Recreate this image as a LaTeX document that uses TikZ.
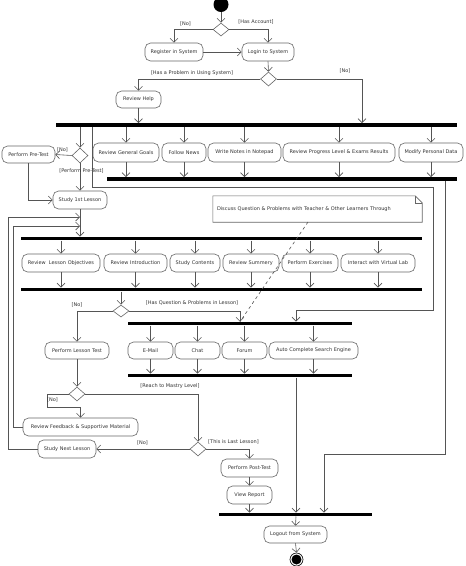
\documentclass[tikz,border=0pt]{standalone}
\usepackage{fontspec}
\setmainfont{DejaVu Sans}
\usetikzlibrary{arrows.meta,shapes.geometric,calc}
\definecolor{ln}{HTML}{555555}
\definecolor{bd}{HTML}{666666}
\definecolor{tx}{HTML}{333333}
\begin{document}
\begin{tikzpicture}[x=1pt,y=-1pt,
  act/.style={draw=bd, line width=0.6pt, rounded corners=5.5pt, minimum height=18pt, inner sep=0pt, font=\fontsize{5}{6}\selectfont, text=tx},
  bar/.style={fill=black, draw=none, minimum height=3.6pt, inner sep=0pt},
  dec/.style={diamond, draw=bd, line width=0.6pt, inner sep=0pt, minimum width=16pt, minimum height=14pt},
  flow/.style={draw=ln, line width=0.6pt, -{Straight Barb[length=4pt,width=8pt]}},
  wire/.style={draw=ln, line width=0.6pt},
  lbl/.style={font=\fontsize{5}{6}\selectfont, text=tx, inner sep=0pt},
]
\useasboundingbox (0,0) rectangle (466,566);
\clip (0,0) rectangle (466,566);
\fill[white] (0,0) rectangle (466,566);

% nodes
\node[circle, fill=black, minimum size=15pt, inner sep=0pt] (start) at (221,4.5) {};
\node[dec, minimum height=13pt] (d1) at (221,29.5) {};
\node[act, minimum width=58pt] (reg) at (174,52) {Register in System};
\node[act, minimum width=52pt] (login) at (268,52) {Login to System};
\node[dec] (d2) at (268.5,79) {};
\node[act, minimum width=45pt, minimum height=17pt] (help) at (138.5,99.5) {Review Help};
\node[bar, minimum width=401pt] (bar1) at (256.5,125) {};
\node[act, minimum width=66pt, minimum height=19pt] (rgg) at (126,152.5) {Review General Goals};
\node[act, minimum width=44pt, minimum height=19pt] (news) at (184,152.5) {Follow News};
\node[act, minimum width=73pt, minimum height=19pt] (notes) at (244.5,152.5) {Write Notes in Notepad};
\node[act, minimum width=112pt, minimum height=19pt] (prog) at (339,152.5) {Review Progress Level \& Exams Results};
\node[act, minimum width=64pt, minimum height=19pt] (mod) at (431,152.5) {Modify Personal Data};
\node[bar, minimum width=350pt] (bar2) at (282,179) {};
\node[dec, minimum height=15pt] (d3) at (80,155.5) {};
\node[act, minimum width=53pt, minimum height=17pt] (pre) at (28.5,154.5) {Perform Pre-Test};
\node[act, minimum width=54pt] (s1) at (80,200) {Study 1st Lesson};
\node[lbl, draw=none, text width=201pt, align=left, inner xsep=4pt, minimum height=26pt] (note) at (317.5,209) {Discuss Question \& Problems with Teacher \& Other Learners Through};
\draw[draw=bd, line width=0.6pt] (note.north west) -- ($(note.north east)+(-7pt,0pt)$) -- ($(note.north east)+(0pt,-7pt)$) -- (note.south east) -- (note.south west) -- cycle;
\draw[draw=bd, line width=0.6pt] ($(note.north east)+(-7pt,0pt)$) -- ++(0pt,-7pt) -- ++(7pt,0pt);
\node[bar, minimum width=401pt] (bar3) at (221.5,238.5) {};
\node[act, minimum width=78pt] (lo) at (61,263) {Review\ \ Lesson Objectives};
\node[act, minimum width=63pt] (intro) at (135.5,263) {Review Introduction};
\node[act, minimum width=50pt] (cont) at (195,263) {Study Contents};
\node[act, minimum width=56pt] (summ) at (251,263) {Review Summery};
\node[act, minimum width=56pt] (ex) at (310,263) {Perform Exercises};
\node[act, minimum width=74pt] (lab) at (378,263) {Interact with Virtual Lab};
\node[bar, minimum width=401pt] (bar4) at (221.5,289.5) {};
\node[dec, minimum height=12pt] (d4) at (121,311) {};
\node[act, minimum width=64pt, minimum height=17pt] (plt) at (77,350.5) {Perform Lesson Test};
\node[bar, minimum width=224pt] (bar5) at (240,323.5) {};
\node[act, minimum width=45pt, minimum height=17pt] (email) at (150.5,350.5) {E-Mail};
\node[act, minimum width=45pt, minimum height=17pt] (chat) at (197.5,350.5) {Chat};
\node[act, minimum width=45pt, minimum height=17pt] (forum) at (244.5,350.5) {Forum};
\node[act, minimum width=89pt, minimum height=17pt] (auto) at (313.5,350.5) {Auto Complete Search Engine};
\node[bar, minimum width=224pt] (bar6) at (240,375.5) {};
\node[dec] (d5) at (77,394) {};
\node[act, minimum width=115pt] (fb) at (80.5,427) {Review Feedback \& Supportive Material};
\node[dec] (d6) at (198,449) {};
\node[act, minimum width=58pt] (next) at (67,449) {Study Next Lesson};
\node[act, minimum width=57pt] (post) at (249.5,468) {Perform Post-Test};
\node[act, minimum width=45pt] (rep) at (249.5,495) {View Report};
\node[bar, minimum width=153pt] (bar7) at (295.5,514.5) {};
\node[act, minimum width=63pt, minimum height=17pt] (logout) at (295.5,534.5) {Logout from System};
\node[circle, draw=black, line width=0.6pt, minimum size=13pt, inner sep=0pt] (end) at (296.5,559.5) {};
\node[circle, fill=black, minimum size=10pt, inner sep=0pt] (endin) at (end) {};

% coordinates
\coordinate (b1a) at (362,125);
\coordinate (p1) at (92,187);
\coordinate (p2) at (433,187);
\coordinate (p3) at (433,310);
\coordinate (p4) at (296,310);
\coordinate (q0) at (445,179);
\coordinate (q1) at (445,454);
\coordinate (q2) at (324,454);
\coordinate (r1) at (296,380);
\coordinate (l1) at (8,217);
\coordinate (l2) at (13,226);
\coordinate (m1) at (47,407);
\coordinate (f5) at (240,321.7);
\coordinate (nt) at (308,222);

% connectors
\draw[flow] (start) -- (d1.north);
\draw[flow] (d1.west) -| (reg.north);
\draw[flow] (d1.east) -| (login.north);
\draw[flow] (reg.east) -- (login.west);
\draw[flow] (login.south) -- (d2.north);
\draw[flow] (d2.west) -| (help.north);
\draw[flow] (d2.east) -| (b1a |- bar1.north);
\draw[flow] (help.south) -- (help |- bar1.north);
\draw[flow] (d3 |- bar1.south) -- (d3.north);
\foreach \n in {rgg,news,notes,prog,mod} {
  \draw[flow] (\n |- bar1.south) -- (\n.north);
  \draw[flow] (\n.south) -- (\n |- bar2.north);
}
\draw[flow] (d3.west) -- (pre.east);
\draw[flow] (d3.south) -- (s1.north);
\draw[flow] (pre.south) |- (s1.west);
\draw[flow] (s1.south) -- (s1 |- bar3.north);
\draw[flow] (next.west) -| (l1) -- (l1 -| s1);
\draw[flow] (fb.west) -| (l2) -- (l2 -| s1);
\foreach \n in {lo,intro,cont,summ,ex,lab} {
  \draw[flow] (\n |- bar3.south) -- (\n.north);
  \draw[flow] (\n.south) -- (\n |- bar4.north);
}
\draw[flow] (d4 |- bar4.south) -- (d4.north);
\draw[flow] (d4.west) -| (plt.north);
\draw[flow] (d4.east) -| (f5);
\foreach \n in {email,chat,forum,auto} {
  \draw[flow] (\n |- bar5.south) -- (\n.north);
  \draw[flow] (\n.south) -- (\n |- bar6.north);
}
\draw[flow] (p1 |- bar1.south) -- (p1) -- (p2) -- (p3) -- (p4) -- (p4 |- bar5.north);
\draw[wire, dashed] (nt) -- (f5);
\draw[flow] (r1 |- bar6.south) -- (r1 |- bar7.north);
\draw[flow] (q0 |- bar2.south) -- (q1) -- (q2) -- (q2 |- bar7.north);
\draw[flow] (plt.south) -- (d5.north);
\draw[flow] (d5.west) -| (m1) -- (m1 -| fb) -- (fb.north);
\draw[flow] (d5.east) -| (d6.north);
\draw[flow] (d6.west) -- (next.east);
\draw[flow] (d6.east) -| (post.north);
\draw[flow] (post.south) -- (rep.north);
\draw[flow] (rep.south) -- (rep |- bar7.north);
\draw[flow] (r1 |- bar7.south) -- (logout.north);
\draw[flow] (logout.south) -- (end.north);

% labels
\node[lbl] (t1) at (185.5,24) {[No]};
\node[lbl] (t2) at (256,21.5) {[Has Account]};
\node[lbl] (t3) at (192,73) {[Has a Problem in Using System]};
\node[lbl] (t4) at (345,71) {[No]};
\node[lbl] (t5) at (62.5,150) {[No]};
\node[lbl] (t6) at (81.5,171) {[Perform Pre-Test]};
\node[lbl] (t7) at (77,305) {[No]};
\node[lbl] (t8) at (192,303) {[Has Question \& Problems in Lesson]};
\node[lbl] (t9) at (170,386.5) {[Reach to Mastry Level]};
\node[lbl] (t10) at (52.5,399.5) {[No]};
\node[lbl] (t11) at (142.5,443) {[No]};
\node[lbl] (t12) at (233.5,441.5) {[This is Last Lesson]};
\end{tikzpicture}
\end{document}
